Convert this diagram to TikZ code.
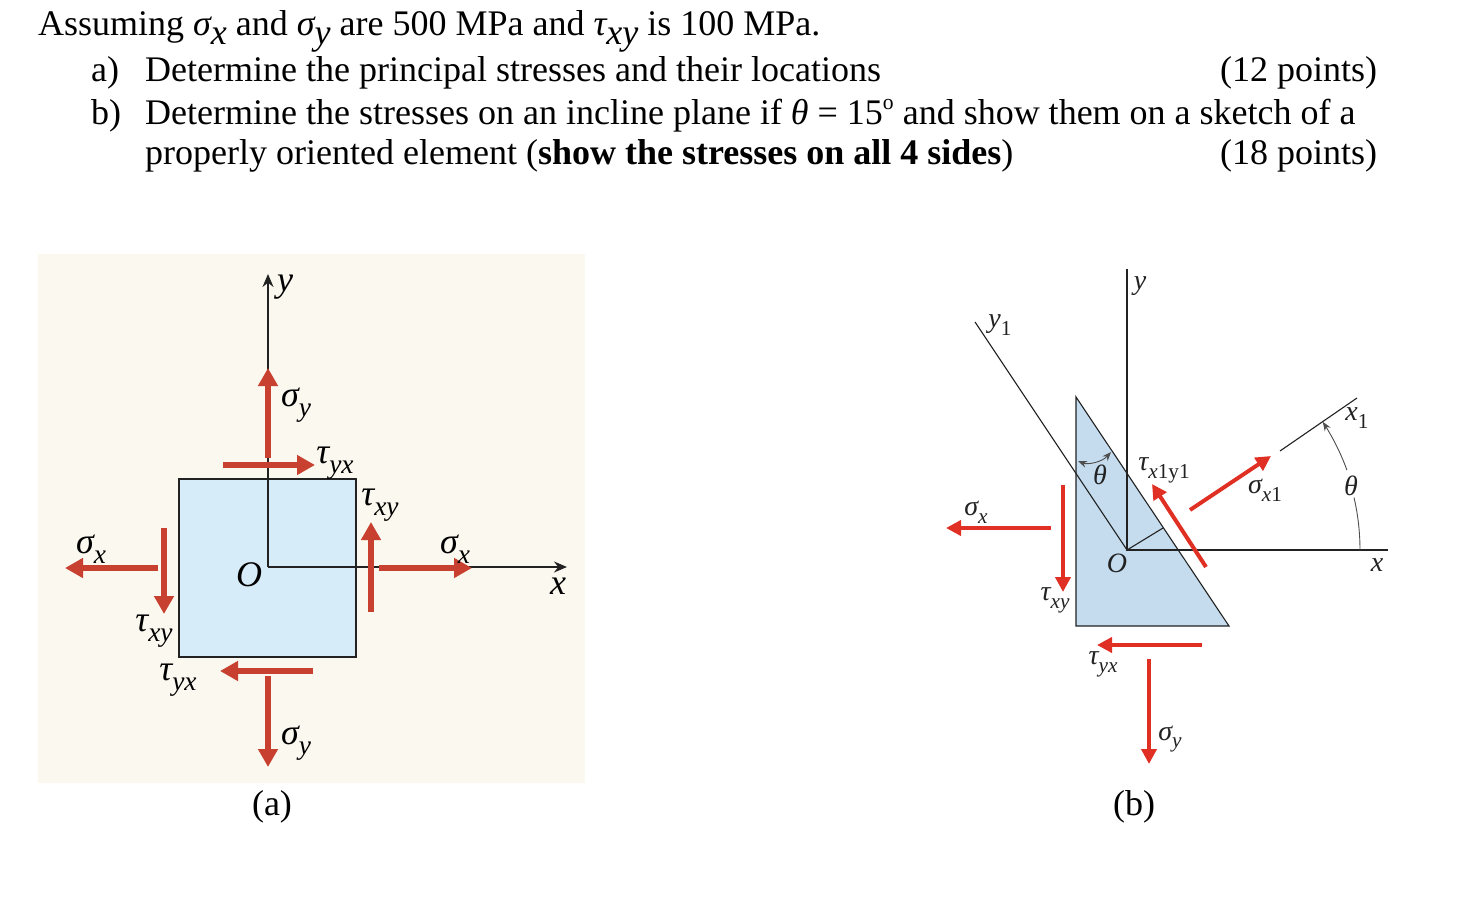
\documentclass[tikz,border=0pt]{standalone}
\usepackage{fontspec}
\usepackage{graphicx}
\setmainfont{Liberation Serif}
\usetikzlibrary{arrows.meta}
\newcommand{\sbs}[2]{#1\raisebox{-.28em}{\scalebox{.76}{#2}}}
\newcommand{\tsb}[2]{#1\raisebox{-.25em}{\scalebox{1}{#2}}}
\definecolor{bgA}{HTML}{FBF8EF}
\definecolor{boxA}{HTML}{D6ECF8}
\definecolor{boxB}{HTML}{C5DCEE}
\definecolor{redA}{HTML}{C8402F}
\definecolor{redB}{HTML}{E03024}
\definecolor{ink}{HTML}{222222}
\tikzset{
  bodytxt/.style={inner sep=0pt,anchor=base west,font=\fontsize{36}{38}\selectfont,text=black},
  capt/.style={inner sep=0pt,font=\fontsize{36}{38}\selectfont,text=black},
  lblA/.style={inner sep=0pt,yshift=-3pt,font=\fontsize{36}{38}\selectfont\itshape,text=black},
  lblB/.style={inner sep=0pt,yshift=-2pt,font=\fontsize{28}{30}\selectfont\itshape,text=ink},
  axisline/.style={draw=ink,line width=1.3pt},
  thinline/.style={draw=ink,line width=1.1pt},
  axisarrow/.style={axisline,-{Stealth[length=13pt,width=11pt]}},
  redarrowA/.style={draw=redA,line width=5.5pt,-{Triangle[length=18pt,width=19pt]}},
  redarrowB/.style={draw=redB,line width=4pt,-{Triangle[length=15pt,width=15pt]}},
  elemA/.style={draw=ink,line width=1.4pt,fill=boxA},
  arcline/.style={draw=ink!80,line width=.9pt},
}
\begin{document}
\begin{tikzpicture}[x=1pt,y=-1pt]
\useasboundingbox (0,0) rectangle (1468,904);
\fill[white] (0,0) rectangle (1468,904);
% text block
\node[bodytxt] (t1) at (38,36) {Assuming \textit{\tsb{σ}{x}} and \textit{\tsb{σ}{y}} are 500 MPa and \textit{\tsb{τ}{xy}} is 100 MPa.};
\node[bodytxt] (t2a) at (91,82) {a)};
\node[bodytxt] (t2) at (145,82) {Determine the principal stresses and their locations};
\node[bodytxt] (t2r) at (1220,82) {(12 points)};
\node[bodytxt] (t3a) at (91,125) {b)};
\node[bodytxt] (t3) at (145,125) {Determine the stresses on an incline plane if \textit{θ} = 15\raisebox{.42em}{\scalebox{.6}{o}} and show them on a sketch of a};
\node[bodytxt] (t4) at (145,165) {properly oriented element (\textbf{show the stresses on all 4 sides})};
\node[bodytxt] (t4r) at (1220,165) {(18 points)};
% panel a
\fill[bgA] (38,254) rectangle (585,783);
\draw[elemA] (179,479) rectangle (356,657);
\coordinate (Oa) at (268,567);
\coordinate (ya) at (268,274);
\coordinate (xa) at (567,567);
\draw[axisarrow] (Oa) -- (ya);
\draw[axisarrow] (Oa) -- (xa);
\draw[redarrowA] (268,458) -- (268,368);
\draw[redarrowA] (223,465) -- (315,465);
\draw[redarrowA] (371,612) -- (371,522);
\draw[redarrowA] (379,568) -- (472,568);
\draw[redarrowA] (158,568) -- (65,568);
\draw[redarrowA] (164,528) -- (164,614);
\draw[redarrowA] (313,671) -- (220,671);
\draw[redarrowA] (268,676) -- (268,767);
\node[lblA] (ay) at (285,284) {y};
\node[lblA] (ax) at (558,583) {x};
\node[lblA] (aO) at (249,572) {O};
\node[lblA] (asy) at (296,402) {\sbs{σ}{y}};
\node[lblA] (atyx) at (335,460) {\sbs{τ}{yx}};
\node[lblA] (atxy) at (380,502) {\sbs{τ}{xy}};
\node[lblA] (asx) at (455,546) {\sbs{σ}{x}};
\node[lblA] (asxl) at (91,546) {\sbs{σ}{x}};
\node[lblA] (atxyl) at (154,628) {\sbs{τ}{xy}};
\node[lblA] (atyxb) at (178,677) {\sbs{τ}{yx}};
\node[lblA] (asyb) at (296,740) {\sbs{σ}{y}};
\node[capt] (capa) at (272,807) {(a)};
% panel b
\coordinate (Ob) at (1127,550);
\fill[boxB] (1076,626) -- (1076,397) -- (1229,626) -- cycle;
\draw[thinline] (1076,626) -- (1076,397) -- (1229,626) -- cycle;
\draw[axisline] (1127,269) -- (Ob) -- (1388,550);
\draw[thinline] (975,322) -- (Ob) -- (1163,528);
\draw[thinline] (1280,451) -- (1357,398);
\draw[arcline] plot[domain=0:13,samples=12,smooth] ({1127+233*cos(\x)},{550-233*sin(\x)});
\draw[arcline,-{Stealth[length=9pt,width=7pt]}] plot[domain=20:33.2,samples=12,smooth] ({1127+234*cos(\x)},{550-234*sin(\x)});
\draw[arcline,{Stealth[length=9pt,width=7pt]}-{Stealth[length=9pt,width=7pt]}] (1078,461) .. controls (1088,465) and (1102,462) .. (1111,452);
\draw[redarrowB] (1051,528) -- (946,528);
\draw[redarrowB] (1063,485) -- (1063,592);
\draw[redarrowB] (1206,567) -- (1152,484);
\draw[redarrowB] (1190,510) -- (1271,456);
\draw[redarrowB] (1202,645) -- (1097,645);
\draw[redarrowB] (1149,659) -- (1149,764);
\node[lblB] (by) at (1140,284) {y};
\node[lblB] (by1) at (1000,323) {\sbs{y}{\upshape 1}};
\node[lblB] (bx1) at (1357,416) {\sbs{x}{\upshape 1}};
\node[lblB] (bsx1) at (1265,488) {\sbs{σ}{x\upshape 1}};
\node[lblB] (bth) at (1351,484) {θ};
\node[lblB] (bth2) at (1100,473) {θ};
\node[lblB] (btx1) at (1164,468) {\sbs{τ}{x\upshape 1y\upshape 1}};
\node[lblB] (bsx) at (976,510) {\sbs{σ}{x}};
\node[lblB] (bO) at (1117,561) {O};
\node[lblB] (bx) at (1377,563) {x};
\node[lblB] (btxy) at (1055,598) {\sbs{τ}{xy}};
\node[lblB] (btyx) at (1103,662) {\sbs{τ}{yx}};
\node[lblB] (bsy) at (1170,737) {\sbs{σ}{y}};
\node[capt] (capb) at (1134,807) {(b)};
\end{tikzpicture}
\end{document}
